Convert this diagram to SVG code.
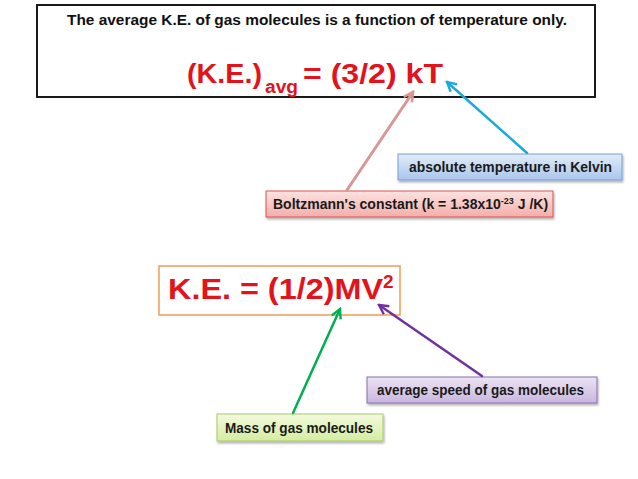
<svg xmlns="http://www.w3.org/2000/svg" width="638" height="479" viewBox="0 0 638 479">
<defs>
<style>
text{font-family:"Liberation Sans",Arial,sans-serif;font-weight:bold}
.lbl{font-size:14px;fill:#1a1a1a}
.red{fill:#e3121b}
.conn{fill:none;stroke-linecap:round}
</style>
<linearGradient id="gBlue" x1="0" y1="0" x2="0" y2="1"><stop offset="0" stop-color="#e2ecf9"/><stop offset="1" stop-color="#aac5ec"/></linearGradient>
<linearGradient id="gPink" x1="0" y1="0" x2="0" y2="1"><stop offset="0" stop-color="#fce3e1"/><stop offset="1" stop-color="#f3aeaa"/></linearGradient>
<linearGradient id="gPurple" x1="0" y1="0" x2="0" y2="1"><stop offset="0" stop-color="#ece4f4"/><stop offset="1" stop-color="#c8b6de"/></linearGradient>
<linearGradient id="gGreen" x1="0" y1="0" x2="0" y2="1"><stop offset="0" stop-color="#f3fadf"/><stop offset="1" stop-color="#d4eca0"/></linearGradient>
<filter id="sh" x="-10%" y="-20%" width="120%" height="160%"><feDropShadow dx="1" dy="2" stdDeviation="1.2" flood-color="#000" flood-opacity="0.3"/></filter>
<marker id="mPink" viewBox="0 0 12 12" refX="10.5" refY="6" markerWidth="13" markerHeight="13" markerUnits="userSpaceOnUse" orient="auto"><path d="M2,1.5 L10.5,6 L2,10.5" fill="none" stroke="#d99694" stroke-width="2.4"/></marker>
<marker id="mBlue" viewBox="0 0 12 12" refX="10.5" refY="6" markerWidth="13" markerHeight="13" markerUnits="userSpaceOnUse" orient="auto"><path d="M2,1.5 L10.5,6 L2,10.5" fill="none" stroke="#1ba9dd" stroke-width="2.2"/></marker>
<marker id="mGreen" viewBox="0 0 12 12" refX="10.5" refY="6" markerWidth="13" markerHeight="13" markerUnits="userSpaceOnUse" orient="auto"><path d="M2,1.5 L10.5,6 L2,10.5" fill="none" stroke="#00b050" stroke-width="2.2"/></marker>
<marker id="mPurple" viewBox="0 0 12 12" refX="10.5" refY="6" markerWidth="13" markerHeight="13" markerUnits="userSpaceOnUse" orient="auto"><path d="M2,1.5 L10.5,6 L2,10.5" fill="none" stroke="#7030a0" stroke-width="2.2"/></marker>
</defs>
<rect width="638" height="479" fill="#fff"/>

<g id="header">
<rect x="37" y="5" width="558" height="92" fill="#fff" stroke="#1a1a1a" stroke-width="2"/>
<text x="67" y="25" font-size="14.5" fill="#111" textLength="500" lengthAdjust="spacingAndGlyphs">The average K.E. of gas molecules is a function of  temperature only.</text>
<text class="red" x="187" y="83" font-size="28" textLength="75" lengthAdjust="spacingAndGlyphs">(K.E.)</text>
<text class="red" x="265" y="93" font-size="18" textLength="33" lengthAdjust="spacingAndGlyphs">avg</text>
<text class="red" x="303" y="83" font-size="28" textLength="140" lengthAdjust="spacingAndGlyphs">= (3/2) kT</text>
</g>

<g id="kelvin">
<rect x="398" y="154" width="224" height="26" fill="url(#gBlue)" stroke="#7a9fd6" stroke-width="1" filter="url(#sh)"/>
<text class="lbl" x="409" y="172" textLength="203" lengthAdjust="spacingAndGlyphs">absolute temperature in Kelvin</text>
</g>

<g id="boltzmann">
<rect x="266" y="191" width="287" height="26" fill="url(#gPink)" stroke="#d9534f" stroke-width="1" filter="url(#sh)"/>
<text class="lbl" x="273" y="209" font-size="13.8">Boltzmann's constant (k = 1.38x10<tspan font-size="9" dy="-5">-23</tspan><tspan dy="5"> J /K)</tspan></text>
</g>

<g id="ke-formula">
<rect x="159" y="266" width="241" height="49" fill="#fff" stroke="#f3a060" stroke-width="1.6"/>
<text class="red" x="168" y="299" font-size="30" textLength="215" lengthAdjust="spacingAndGlyphs">K.E. = (1/2)MV</text>
<text class="red" x="383" y="288" font-size="19">2</text>
</g>

<g id="speed">
<rect x="367" y="377" width="230" height="26" fill="url(#gPurple)" stroke="#8a6cb0" stroke-width="1" filter="url(#sh)"/>
<text class="lbl" x="377" y="395" textLength="207" lengthAdjust="spacingAndGlyphs">average speed of gas molecules</text>
</g>

<g id="mass">
<rect x="217" y="414" width="166" height="27" fill="url(#gGreen)" stroke="#a8c86a" stroke-width="1" filter="url(#sh)"/>
<text class="lbl" x="225" y="433" textLength="148" lengthAdjust="spacingAndGlyphs">Mass of gas molecules</text>
</g>

<g id="connectors" class="conn">
<line x1="347" y1="190" x2="413" y2="92" stroke="#d99694" stroke-width="3" marker-end="url(#mPink)"/>
<line x1="527" y1="153" x2="447" y2="82" stroke="#1ba9dd" stroke-width="2.5" marker-end="url(#mBlue)"/>
<line x1="293" y1="413" x2="340" y2="309" stroke="#00b050" stroke-width="2.5" marker-end="url(#mGreen)"/>
<line x1="482" y1="376" x2="379" y2="305" stroke="#7030a0" stroke-width="2.5" marker-end="url(#mPurple)"/>
</g>
</svg>
